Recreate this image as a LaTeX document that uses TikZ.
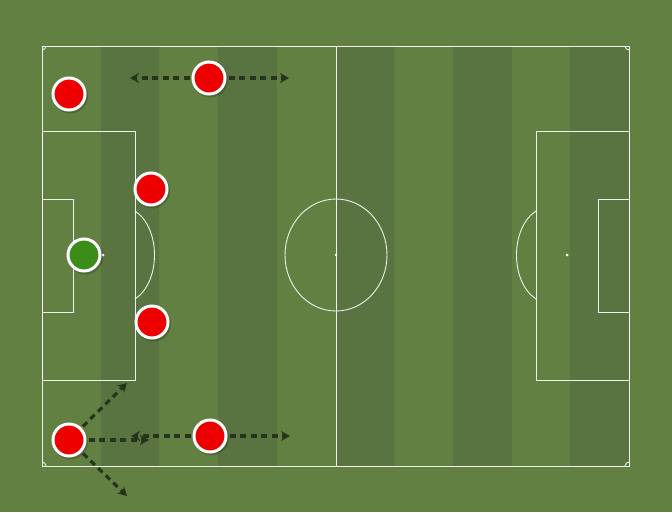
\documentclass[tikz,border=0pt]{standalone}
\usetikzlibrary{arrows.meta}
\definecolor{grass}{RGB}{99,128,67}
\definecolor{stripe}{RGB}{89,116,64}
\definecolor{pred}{RGB}{238,0,0}
\definecolor{pgreen}{RGB}{60,140,26}
\definecolor{arr}{RGB}{38,52,30}
\tikzset{
  pitch/.style={draw=white, line width=0.9pt, opacity=0.9},
  player/.style={circle, minimum size=32pt, inner sep=0pt, draw=white, line width=3pt},
  redp/.style={player, fill=pred},
  greenp/.style={player, fill=pgreen},
  run/.style={draw=arr, line width=3.2pt, dash pattern=on 6pt off 4.5pt, -{Stealth[length=9pt,width=10pt]}, shorten <=2pt},
}
\begin{document}
\begin{tikzpicture}[x=1pt,y=-1pt]
\fill[grass] (0,0) rectangle (672,512);
\useasboundingbox (0,0) rectangle (672,512);
% stripes
\foreach \i in {1,3,5,7,9}{
  \fill[stripe] ({42+58.7*\i},46) rectangle ({42+58.7*(\i+1)},466);
}
% outline
\draw[pitch] (42,46) rectangle (629,466);
\draw[pitch] (336,46) -- (336,466);
\draw[pitch] (336,255) ellipse [x radius=51, y radius=56];
\fill[white] (336,255) circle (1.3);
% left
\draw[pitch] (42,131) rectangle (135,380);
\draw[pitch] (42,199) rectangle (73,312);
\fill[white] (103,255) circle (1.5);
\draw[pitch] (135,211) .. controls (161,228) and (161,282) .. (135,299);
% right
\draw[pitch] (629,131) rectangle (536,380);
\draw[pitch] (629,199) rectangle (598,312);
\fill[white] (567,255) circle (1.5);
\draw[pitch] (536,211) .. controls (510,228) and (510,282) .. (536,299);
% corners
\draw[pitch] (42,50) arc[start angle=90, end angle=0, radius=4] ;
\draw[pitch] (625,46) arc[start angle=180, end angle=90, radius=4];
\draw[pitch] (42,462) arc[start angle=-90, end angle=0, radius=4];
\draw[pitch] (625,466) arc[start angle=180, end angle=270, radius=4];
% arrow end coordinates
\coordinate (t1) at (130,78);
\coordinate (t2) at (289,78);
\coordinate (b1) at (131,436);
\coordinate (b2) at (290,436);
\coordinate (c1) at (127,383);
\coordinate (c2) at (149,440);
\coordinate (c3) at (127,496);
% players (shadows)
\foreach \x/\y in {69/94,209/78,151/189,84/255,152/322,69/440,210/436}{
  \fill[black, opacity=0.18] (\x+1.5,\y+2) circle (17.5);
}
\node[redp] (p1) at (69,94) {};
\node[redp] (p2) at (209,78) {};
\node[redp] (p3) at (151,189) {};
\node[greenp] (gk) at (84,255) {};
\node[redp] (p4) at (152,322) {};
\node[redp] (p5) at (69,440) {};
\node[redp] (p6) at (210,436) {};
% runs
\draw[run] (p2) -- (t1);
\draw[run] (p2) -- (t2);
\draw[run] (p6) -- (b1);
\draw[run] (p6) -- (b2);
\draw[run] (p5) -- (c1);
\draw[run] (p5) -- (c2);
\draw[run] (p5) -- (c3);
\end{tikzpicture}
\end{document}
